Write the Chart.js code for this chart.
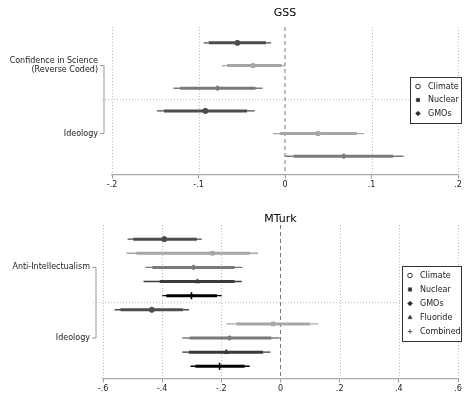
<!DOCTYPE html>
<html><head><script src="https://cdn.jsdelivr.net/npm/chart.js@4"></script>
<style>body{margin:0;background:#fff}canvas{position:absolute;left:0}</style></head>
<body><canvas id="c1" width="474" height="200" style="top:0"></canvas><canvas id="c2" width="474" height="202" style="top:200px"></canvas>
<script>
// GSS
const gssSeries=['Climate','Nuclear','GMOs'];
const gssGroups=['Confidence in Science\n(Reverse Coded)','Ideology'];
const gssPoint=[-0.055,-0.037,-0.078,-0.092,0.038,0.068];
const gssInnerLo=[-0.088,-0.067,-0.121,-0.140,-0.006,0.010];
const gssInnerHi=[-0.022,-0.004,-0.034,-0.044,0.083,0.125];
const gssOuterLo=[-0.094,-0.073,-0.129,-0.148,-0.014,0.000];
const gssOuterHi=[-0.016,0.000,-0.026,-0.035,0.091,0.137];
const gssTicks=[-0.2,-0.1,0,0.1,0.2];
// MTurk
const mtSeries=['Climate','Nuclear','GMOs','Fluoride','Combined'];
const mtGroups=['Anti-Intellectualism','Ideology'];
const mtPoint=[-0.393,-0.230,-0.294,-0.281,-0.301,-0.435,-0.025,-0.172,-0.183,-0.206];
const mtInnerLo=[-0.498,-0.487,-0.433,-0.408,-0.386,-0.541,-0.149,-0.307,-0.310,-0.288];
const mtInnerHi=[-0.283,-0.104,-0.155,-0.155,-0.215,-0.330,0.099,-0.031,-0.059,-0.121];
const mtOuterLo=[-0.517,-0.521,-0.457,-0.463,-0.399,-0.561,-0.183,-0.332,-0.332,-0.304];
const mtOuterHi=[-0.266,-0.076,-0.129,-0.131,-0.199,-0.309,0.127,-0.003,-0.034,-0.104];
const mtTicks=[-0.6,-0.4,-0.2,0,0.2,0.4,0.6];

const colors={Climate:'#4d4d4d',Nuclear:'#a6a6a6',GMOs:'#7a7a7a',Fluoride:'#3a3a3a',Combined:'#000'};
const styles={Climate:'circle',Nuclear:'rect',GMOs:'rectRot',Fluoride:'triangle',Combined:'cross'};
const FONT='"DejaVu Sans", sans-serif';

function fmt(v){if(Math.abs(v)<1e-9)return '0';let s=(Math.round(v*10)/10).toString();return s.replace('0.','.');}

function make(id,cfg){
  const n=cfg.point.length, ns=cfg.series.length;
  const datasets=cfg.series.map((s,si)=>({label:s,data:cfg.point.map((v,i)=>({x:v,y:i+1})).filter((_,i)=>i%ns===si),
    pointStyle:styles[s],pointRadius:s==='Combined'?3.5:2.6,pointBorderWidth:s==='Combined'?1.6:1,
    borderColor:colors[s],backgroundColor:s==='Combined'?colors[s]:colors[s],showLine:false}));
  const plugin={id:'deco'+id,
    beforeDatasetsDraw(ch){
      const c=ch.ctx,x=ch.scales.x,y=ch.scales.y,a=ch.chartArea;
      c.save();
      // separator
      c.setLineDash([1,2]);c.strokeStyle='#bbb';c.lineWidth=1;
      const sy=y.getPixelForValue(ns+0.5);c.beginPath();c.moveTo(a.left-10,sy);c.lineTo(a.right,sy);c.stroke();
      c.setLineDash([4,3]);c.strokeStyle='#777';
      const zx=x.getPixelForValue(0);c.beginPath();c.moveTo(zx,a.top);c.lineTo(zx,a.bottom);c.stroke();
      c.setLineDash([]);
      for(let i=0;i<n;i++){
        const s=cfg.series[i%ns],py=y.getPixelForValue(i+1);
        c.strokeStyle=colors[s];
        c.lineWidth=1.3;c.beginPath();c.moveTo(x.getPixelForValue(cfg.olo[i]),py);c.lineTo(x.getPixelForValue(cfg.ohi[i]),py);c.stroke();
        c.lineWidth=3;c.beginPath();c.moveTo(x.getPixelForValue(cfg.ilo[i]),py);c.lineTo(x.getPixelForValue(cfg.ihi[i]),py);c.stroke();
      }
      c.restore();
    },
    afterDraw(ch){
      const c=ch.ctx,y=ch.scales.y,a=ch.chartArea;
      c.save();
      c.fillStyle='#000';c.font='11px '+FONT;c.textAlign='center';c.textBaseline='middle';
      c.fillText(cfg.title,(a.left+a.right)/2,cfg.titleY);
      // group labels + bracket
      c.font='8px '+FONT;c.textAlign='right';c.fillStyle='#222';
      const rows=cfg.groupRows.map(r=>y.getPixelForValue(r));
      const bx=cfg.bx;
      c.strokeStyle='#999';c.lineWidth=1;c.beginPath();
      c.moveTo(bx-4,rows[0]);c.lineTo(bx,rows[0]);c.lineTo(bx,rows[1]);c.lineTo(bx-4,rows[1]);c.stroke();
      cfg.groups.forEach((g,gi)=>{const ls=g.split('\n');ls.forEach((l,li)=>c.fillText(l,bx-6,rows[gi]+(li-(ls.length-1)/2)*8.5));});
      // legend
      const L=cfg.legend;c.fillStyle='#fff';c.fillRect(L.x,L.y,L.w,L.h);
      c.strokeStyle='#333';c.lineWidth=1;c.strokeRect(L.x+0.5,L.y+0.5,L.w,L.h);
      c.textAlign='left';
      cfg.series.forEach((s,si)=>{const yy=L.y+L.first+si*L.step;
        Chart.helpers.drawPoint(c,{pointStyle:styles[s],radius:2.3,borderWidth:1},L.x+8,yy);
        c.strokeStyle='#555';
        c.fillStyle='#222';c.fillText(s,L.x+18,yy);});
      c.restore();
    }};
  // legend markers need stroke colour: drawPoint uses ctx stroke style
  new Chart(document.getElementById(id),{type:'scatter',data:{datasets},plugins:[{id:'pre'+id,beforeDraw(ch){ch.ctx.strokeStyle='#555';}},plugin],
    options:{responsive:false,animation:false,events:[],
      layout:{padding:cfg.pad},
      plugins:{legend:{display:false},tooltip:{enabled:false}},
      scales:{
        x:{type:'linear',min:cfg.ticks[0],max:cfg.ticks[cfg.ticks.length-1],afterBuildTicks(s){s.ticks=cfg.ticks.map(v=>({value:v}));},
          ticks:{callback:v=>fmt(v),font:{size:8,family:FONT},color:'#222',padding:2,maxRotation:0},
          grid:{color:'#ccc',tickLength:4,tickColor:'#999',lineWidth:1,drawOnChartArea:false},border:{color:'#aaa',width:1.2}},
        y:{type:'linear',reverse:true,min:cfg.ymin,max:cfg.ymax,display:false}}}});
}
// dotted vertical grid plugin
Chart.register({id:'vgrid',beforeDatasetsDraw(ch){const c=ch.ctx,x=ch.scales.x,a=ch.chartArea;c.save();c.setLineDash([1,2]);c.strokeStyle='#bbb';c.lineWidth=1;
  x.ticks.forEach(t=>{if(Math.abs(t.value)<1e-9)return;const px=Math.round(x.getPixelForValue(t.value))+0.5;c.beginPath();c.moveTo(px,a.top);c.lineTo(px,a.bottom);c.stroke();});c.restore();}});

make('c1',{title:'GSS',titleY:13,series:gssSeries,groups:gssGroups,groupRows:[2,5],bx:104,
  point:gssPoint,ilo:gssInnerLo,ihi:gssInnerHi,olo:gssOuterLo,ohi:gssOuterHi,ticks:gssTicks,
  ymin:0.3,ymax:6.8,pad:{top:27,left:112,right:16,bottom:8},
  legend:{x:410,y:77,w:51,h:46,first:9.5,step:13.5}});
make('c2',{title:'MTurk',titleY:19,series:mtSeries,groups:mtGroups,groupRows:[3,8],bx:96,
  point:mtPoint,ilo:mtInnerLo,ihi:mtInnerHi,olo:mtOuterLo,ohi:mtOuterHi,ticks:mtTicks,
  ymin:0,ymax:10.86,pad:{top:25,left:103,right:16,bottom:6},
  legend:{x:402,y:66,w:59,h:75,first:9.5,step:14}});
</script></body></html>
